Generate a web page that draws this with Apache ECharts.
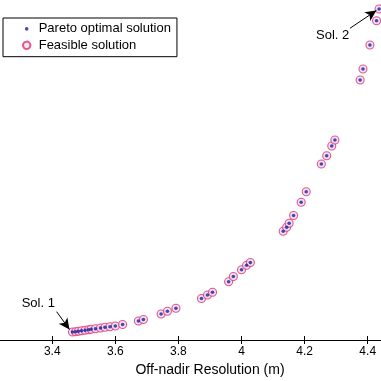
<!DOCTYPE html>
<html>
<head>
<meta charset="utf-8">
<script src="https://cdn.jsdelivr.net/npm/echarts@6/dist/echarts.min.js"></script>
<style>html,body{margin:0;padding:0;background:#fff;}#c{width:381px;height:381px;}</style>
</head>
<body>
<div id="c"></div>
<script>
// Off-nadir resolution (m)
var resolution = [3.464, 3.474, 3.483, 3.493, 3.504, 3.515, 3.523, 3.537, 3.553, 3.567,
  3.583, 3.600, 3.623, 3.673, 3.689, 3.745, 3.765, 3.792, 3.873, 3.892,
  3.908, 3.959, 3.974, 4.000, 4.016, 4.028, 4.132, 4.143, 4.151, 4.165,
  4.189, 4.205, 4.253, 4.270, 4.286, 4.296, 4.376, 4.385, 4.407, 4.428, 4.436];
// second objective (axis not visible in the picture; relative units)
var objective2 = [0.242, 0.248, 0.263, 0.278, 0.293, 0.308, 0.323, 0.338, 0.363, 0.384,
  0.402, 0.423, 0.468, 0.574, 0.619, 0.785, 0.867, 0.958, 1.254, 1.360,
  1.441, 1.761, 1.918, 2.124, 2.257, 2.341, 3.287, 3.408, 3.526, 3.761,
  4.160, 4.480, 5.317, 5.568, 5.861, 6.042, 7.855, 8.187, 8.912, 9.647, 10.0];
var seriesNames = ['Pareto optimal solution', 'Feasible solution'];
var xTitle = 'Off-nadir Resolution (m)';
var annotations = [
  {text: 'Sol. 1', textAt: [3.3556, 1.109], from: [3.4139, 0.855], to: [3.4545, 0.317]},
  {text: 'Sol. 2', textAt: [4.2888, 9.215], from: [4.3436, 9.417], to: [4.4276, 9.955]}
];

var pts = resolution.map(function (x, i) { return [x, objective2[i]]; });
var font = "'Liberation Sans', Arial, Helvetica, sans-serif";

var chart = echarts.init(document.getElementById('c'), null, {renderer: 'canvas'});
var dotIcon = 'path://M0,0M14,14M8.8,7A1.8,1.8,0,1,1,8.79,6.9Z';
var ringIcon = 'path://M0,0M14,14M10.7,7A3.7,3.7,0,1,1,10.69,6.9Z';

chart.setOption({
  animation: false,
  backgroundColor: '#fff',
  textStyle: {fontFamily: font},
  grid: {left: -10.8, right: -49.8, top: 9, bottom: 41, containLabel: false, outerBoundsMode: 'none'},
  legend: {
    orient: 'vertical', left: 3, top: 18,
    backgroundColor: '#fff', borderColor: '#000', borderWidth: 1,
    padding: [3.7, 6, 3.7, 15.7],
    itemWidth: 14, itemHeight: 14, itemGap: 1.3, itemTextGap: 12.3,
    textStyle: {fontSize: 13, color: '#000', fontFamily: font},
    data: [
      {name: seriesNames[0], icon: dotIcon},
      {name: seriesNames[1], icon: ringIcon}
    ]
  },
  xAxis: [{
    type: 'value', min: 3.2, max: 4.6, interval: 0.2, position: 'bottom',
    name: xTitle, nameLocation: 'middle', nameGap: 23,
    nameTextStyle: {fontSize: 14, color: '#000', fontFamily: font},
    axisLine: {lineStyle: {color: '#000', width: 1}},
    axisTick: {inside: true, length: 4, lineStyle: {color: '#000'}},
    axisLabel: {fontSize: 12, color: '#000', margin: 6, fontFamily: font,
      formatter: function (v) { return String(Math.round(v * 10) / 10); }},
    splitLine: {show: false}
  }, {
    type: 'value', min: 3.2, max: 4.6, interval: 0.2, position: 'top',
    axisLine: {lineStyle: {color: '#000', width: 1}},
    axisTick: {inside: true, length: 4, lineStyle: {color: '#000'}},
    axisLabel: {show: false},
    splitLine: {show: false}
  }],
  yAxis: [{
    type: 'value', min: 0, max: 10, position: 'left',
    axisLine: {show: true, lineStyle: {color: '#000'}},
    axisTick: {inside: true, length: 4},
    axisLabel: {show: false},
    splitLine: {show: false}
  }, {
    type: 'value', min: 0, max: 10, position: 'right',
    axisLine: {show: true, lineStyle: {color: '#000'}},
    axisTick: {inside: true, length: 4},
    axisLabel: {show: false},
    splitLine: {show: false}
  }],
  series: [{
    name: seriesNames[1], type: 'scatter', data: pts, clip: false,
    symbol: 'circle', symbolSize: 8, z: 2,
    itemStyle: {color: '#eadcf2', borderColor: '#e2306a', borderWidth: 1.1}
  }, {
    name: seriesNames[0], type: 'scatter', data: pts, clip: false,
    symbol: 'circle', symbolSize: 3.6, z: 3,
    itemStyle: {color: '#1e1ea0'},
    markLine: {
      silent: true, animation: false,
      symbol: ['none', 'arrow'], symbolSize: [8, 11],
      lineStyle: {color: '#000', width: 1, type: 'solid'},
      label: {show: false},
      data: annotations.map(function (a) {
        return [{coord: a.from}, {coord: a.to}];
      })
    },
    markPoint: {
      silent: true, animation: false,
      data: annotations.map(function (a) {
        return {coord: a.textAt, symbol: 'circle', symbolSize: 1,
          itemStyle: {color: 'rgba(0,0,0,0)'},
          label: {show: true, position: 'inside', formatter: a.text,
            color: '#000', fontSize: 13, fontFamily: font}};
      })
    }
  }]
});
</script>
</body>
</html>
